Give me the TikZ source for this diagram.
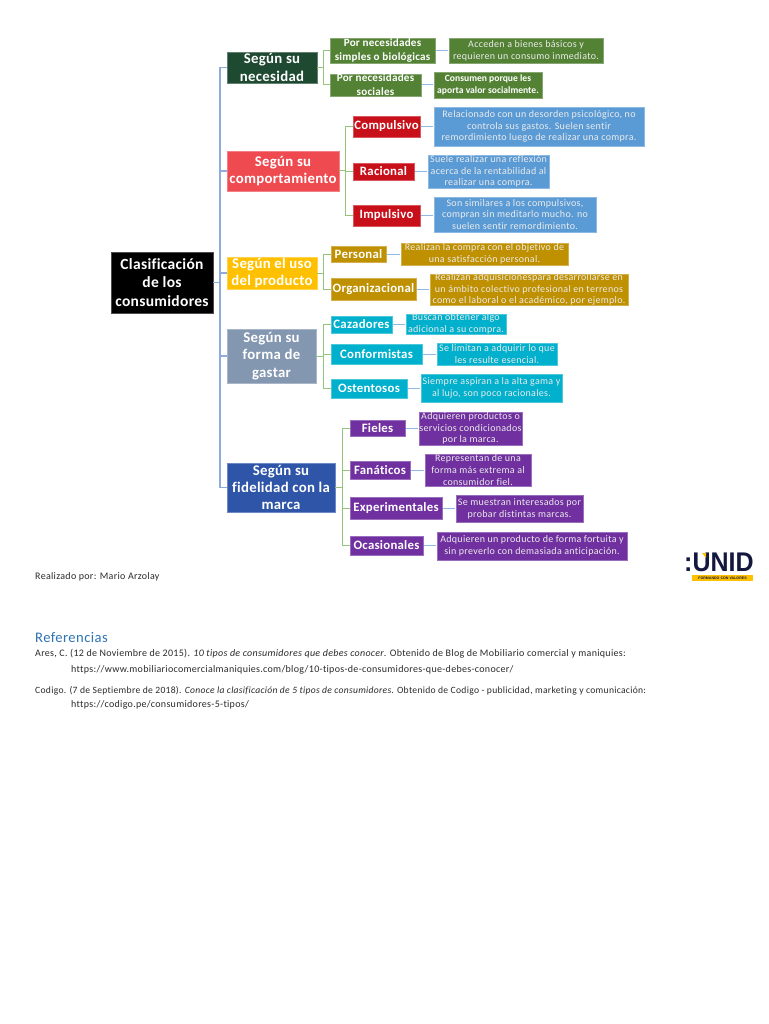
\documentclass[tikz,border=0pt]{standalone}
\usepackage{fontspec}
\setmainfont{Carlito}[Ligatures={NoCommon}]
\newfontfamily\lsp[LetterSpace=3,Ligatures={NoCommon}]{Carlito}
\newfontfamily\lspb[LetterSpace=2,Ligatures={NoCommon},BoldFont={Carlito Bold}]{Carlito}
\newfontfamily\logofont{Liberation Sans}
\definecolor{cDG}{HTML}{1E4A32}
\definecolor{cRD}{HTML}{EE4A50}
\definecolor{cYL}{HTML}{FFC000}
\definecolor{cGY}{HTML}{8497B0}
\definecolor{cBL}{HTML}{2F55A8}
\definecolor{cGN}{HTML}{548235}
\definecolor{cCR}{HTML}{C8101A}
\definecolor{cSK}{HTML}{5B9BD5}
\definecolor{cGD}{HTML}{BF9000}
\definecolor{cCY}{HTML}{00B0CC}
\definecolor{cPU}{HTML}{7030A0}
\definecolor{cTR}{HTML}{8FAADC}
\definecolor{cBU}{HTML}{93C47A}
\definecolor{cLF}{HTML}{8DB9E2}
\definecolor{cRF}{HTML}{2E74B5}
\definecolor{cNV}{HTML}{14183F}
\definecolor{cTX}{HTML}{2B2B2B}
\newcommand\bx[8]{%
  \pgfmathsetmacro\bxw{#4-#2}\pgfmathsetmacro\bxh{#5-#3}%
  \pgfmathsetmacro\bxx{(#2+#4)/2}\pgfmathsetmacro\bxy{(#3+#5)/2}%
  \node[boxb=#6,minimum width=\bxw pt,minimum height=\bxh pt] (#1) at (\bxx,\bxy) {};
  \node[#7] (#1t) at (#1.center) {#8};}
\tikzset{
  x=1pt,y=-1pt,
  boxb/.style={fill=#1,draw=#1!70!white,line width=.5pt,inner sep=0pt,outer sep=0pt},
  rootb/.style={text=white,align=center,inner sep=0pt,font=\fontsize{15.5}{18.5}\selectfont\lspb\bfseries},
  big/.style={text=white,align=center,inner sep=0pt,font=\fontsize{14.8}{17.3}\selectfont\lspb\bfseries},
  mid/.style={text=white,align=center,inner sep=0pt,font=\fontsize{12.8}{14}\selectfont\lspb\bfseries},
  midsm/.style={text=white,align=center,inner sep=0pt,font=\fontsize{11.1}{14}\selectfont\lspb\bfseries},
  leaf/.style={text=white!92!black,align=center,inner sep=0pt,font=\fontsize{10}{11.8}\selectfont\lsp},
  tight/.style={text=white,align=center,inner sep=0pt,font=\fontsize{9.6}{11.8}\selectfont\bfseries},
  trunk/.style={draw=cTR,line width=1.1pt},
  bus/.style={draw=cBU,line width=1pt},
  twig/.style={draw=cLF,line width=1pt},
  elbow/.style={to path={(\tikztostart) -- ++(#1,0) |- (\tikztotarget)}},
  foot/.style={anchor=west,inner sep=0pt,text=cTX,font=\fontsize{10}{11}\selectfont\lsp},
  footb/.style={anchor=west,inner sep=0pt,text=cTX,font=\fontsize{9.6}{11}\selectfont\lsp},
  refhead/.style={anchor=west,inner sep=0pt,text=cRF,font=\fontsize{14.6}{15}\selectfont\lsp}
}
\begin{document}
\begin{tikzpicture}
\useasboundingbox (0,0) rectangle (768,1024);
\fill[white] (0,0) rectangle (768,1024);
% root
\bx{root}{111}{252}{213}{313}{black}{rootb}{Clasificación\\de los\\consumidores}
% level 1
\bx{na}{227}{52}{317}{83}{cDG}{big}{Según su\\necesidad}
\bx{nb}{227}{151}{339}{191}{cRD}{big}{Según su\\comportamiento}
\bx{nc}{227}{257}{317}{289}{cYL}{big}{Según el uso\\del producto}
\bx{nd}{227}{329}{316}{383}{cGY}{big}{Según su\\forma de\\gastar}
\bx{ne}{227}{463}{335}{512}{cBL}{big}{Según su\\fidelidad con la\\marca}
% level 2 and 3
\bx{a1}{330}{38}{435}{63}{cGN}{midsm}{Por necesidades\\simples o biológicas}
\bx{a1l}{449}{38}{603}{63}{cGN}{leaf}{Acceden a bienes básicos y\\requieren un consumo inmediato.}
\bx{a2}{330}{74}{421}{96}{cGN}{midsm}{Por necesidades\\sociales}
\bx{a2l}{434}{72}{542}{98}{cGN}{tight}{Consumen porque les\\aporta valor socialmente.}
\bx{b1}{353}{116}{420}{137}{cCR}{mid}{Compulsivo}
\bx{b1l}{434}{107}{644}{146}{cSK}{leaf}{Relacionado con un desorden psicológico, no\\controla sus gastos. Suelen sentir\\remordimiento luego de realizar una compra.}
\bx{b2}{353}{163}{414}{180}{cCR}{mid}{Racional}
\bx{b2l}{428}{155}{549}{188}{cSK}{leaf}{Suele realizar una reflexión\\acerca de la rentabilidad al\\realizar una compra.}
\bx{b3}{353}{205}{420}{226}{cCR}{mid}{Impulsivo}
\bx{b3l}{434}{197}{596}{232}{cSK}{leaf}{Son similares a los compulsivos,\\compran sin meditarlo mucho. no\\suelen sentir remordimiento.}
\bx{c1}{331}{246}{386}{262}{cGD}{mid}{Personal}
\bx{c1l}{401}{243}{568}{265}{cGD}{leaf}{Realizan la compra con el objetivo de\\una satisfacción personal.}
\bx{c2}{331}{278}{416}{300}{cGD}{mid}{Organizacional}
\bx{c2l}{430}{274}{628}{305}{cGD}{leaf}{Realizan adquisicionespara desarrollarse en\\un ámbito colectivo profesional en terrenos\\como el laboral o el académico, por ejemplo.}
\bx{d1}{331}{316}{392}{333}{cCY}{mid}{Cazadores}
\bx{d1l}{406}{314}{506}{334}{cCY}{leaf}{Buscan obtener algo\\adicional a su compra.}
\bx{d2}{331}{344}{422}{364}{cCY}{mid}{Conformistas}
\bx{d2l}{437}{343}{557}{365}{cCY}{leaf}{Se limitan a adquirir lo que\\les resulte esencial.}
\bx{d3}{331}{379}{407}{398}{cCY}{mid}{Ostentosos}
\bx{d3l}{421}{374}{562}{402}{cCY}{leaf}{Siempre aspiran a la alta gama y\\al lujo, son poco racionales.}
\bx{e1}{350}{420}{405}{436}{cPU}{mid}{Fieles}
\bx{e1l}{419}{412}{522}{445}{cPU}{leaf}{Adquieren productos o\\servicios condicionados\\por la marca.}
\bx{e2}{350}{461}{410}{479}{cPU}{mid}{Fanáticos}
\bx{e2l}{425}{454}{531}{486}{cPU}{leaf}{Representan de una\\forma más extrema al\\consumidor fiel.}
\bx{e3}{350}{497}{442}{519}{cPU}{mid}{Experimentales}
\bx{e3l}{456}{495}{583}{522}{cPU}{leaf}{Se muestran interesados por\\probar distintas marcas.}
\bx{e4}{350}{536}{423}{555}{cPU}{mid}{Ocasionales}
\bx{e4l}{437}{532}{627}{560}{cPU}{leaf}{Adquieren un producto de forma fortuita y\\sin preverlo con demasiada anticipación.}
% connectors
\foreach \t in {na,nb,nc,nd,ne} \draw[trunk] (root.east) to[elbow=7] (\t.west);
\foreach \t in {a1,a2} \draw[bus] (na.east) to[elbow=6.5] (\t.west);
\foreach \t in {b1,b2,b3} \draw[bus] (nb.east) to[elbow=6.5] (\t.west);
\foreach \t in {c1,c2} \draw[bus] (nc.east) to[elbow=6.5] (\t.west);
\foreach \t in {d1,d2,d3} \draw[bus] (nd.east) to[elbow=7] (\t.west);
\foreach \t in {e1,e2,e3,e4} \draw[bus] (ne.east) to[elbow=7] (\t.west);
\foreach \s in {a1,a2,b1,b2,b3,c1,c2,d1,d2,d3,e1,e2,e3,e4}
  \draw[twig,shorten <=1pt,shorten >=1pt] (\s.east) -- (\s.east -| \s l.west);
% footer
\node[foot] (autor) at (35,577) {Realizado por: Mario Arzolay};
\node[refhead] (refs) at (35,638) {Referencias};
\node[foot] (r1) at (35,654) {Ares, C. (12 de Noviembre de 2015). \textit{10 tipos de consumidores que debes conocer}. Obtenido de Blog de Mobiliario comercial y maniquies:};
\node[foot] (r1b) at (71,669.5) {https://www.mobiliariocomercialmaniquies.com/blog/10-tipos-de-consumidores-que-debes-conocer/};
\node[footb] (r2) at (35,691) {Codigo. (7 de Septiembre de 2018). \textit{Conoce la clasificación de 5 tipos de consumidores}. Obtenido de Codigo - publicidad, marketing y comunicación:};
\node[foot] (r2b) at (71,705) {https://codigo.pe/consumidores-5-tipos/};
% logo
\node[anchor=west,inner sep=0pt,text=cNV,font=\fontsize{25}{25}\selectfont\logofont\bfseries] (logo) at (684,562.5) {\scalebox{1}[1.08]{:UNID}};
\fill[cYL] (702,553) -- (706,553) -- (706,558) -- cycle;
\fill[cYL] (692,575) rectangle (753,581);
\node[inner sep=0pt,text=cNV,font=\fontsize{3.6}{4}\selectfont\logofont\bfseries] (lema) at (722.5,578.3) {FORMANDO CON VALORES};
\end{tikzpicture}
\end{document}
